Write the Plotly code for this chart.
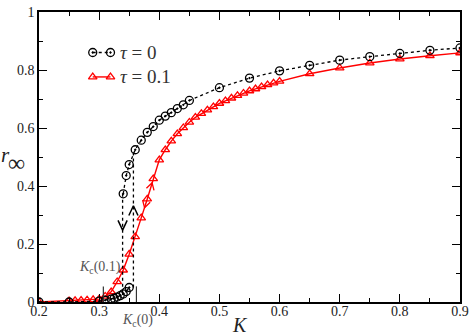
import numpy as np
import plotly.graph_objects as go

# ---- data: order parameter r_inf versus coupling K ----
# tau = 0, lower branch (increasing K)
K0_low = [0.20, 0.25, 0.30, 0.31, 0.32, 0.325, 0.33, 0.335, 0.34, 0.345, 0.35]
r0_low = [0.0, 0.0, 0.003, 0.006, 0.010, 0.013, 0.017, 0.022, 0.028, 0.036, 0.050]
# tau = 0, upper branch
K0_up = [0.34, 0.345, 0.35, 0.36, 0.37, 0.38, 0.39, 0.40, 0.41, 0.42, 0.43, 0.44, 0.45,
         0.50, 0.55, 0.60, 0.65, 0.70, 0.75, 0.80, 0.85, 0.90]
r0_up = [0.373, 0.436, 0.474, 0.525, 0.558, 0.585, 0.605, 0.627, 0.641, 0.653, 0.667, 0.680, 0.695,
         0.739, 0.772, 0.797, 0.816, 0.834, 0.846, 0.857, 0.868, 0.876]
# tau = 0, jumps between branches: (K, r_from, r_to)
jump_down = (0.339, 0.373, 0.028)
jump_up = (0.357, 0.050, 0.525)

# tau = 0.1
K1 = [0.20, 0.25, 0.26, 0.27, 0.28, 0.29, 0.30, 0.31, 0.32, 0.33, 0.34, 0.35, 0.36, 0.37, 0.38,
      0.39, 0.40, 0.41, 0.42, 0.43, 0.44, 0.45, 0.46, 0.47, 0.48, 0.49, 0.50, 0.51, 0.52, 0.53,
      0.54, 0.55, 0.56, 0.57, 0.58, 0.59, 0.60, 0.65, 0.70, 0.75, 0.80, 0.85, 0.90]
r1 = [0.0, 0.004, 0.005, 0.006, 0.007, 0.008, 0.010, 0.020, 0.035, 0.070, 0.110, 0.165, 0.225, 0.290, 0.355,
      0.425, 0.490, 0.525, 0.555, 0.580, 0.601, 0.620, 0.637, 0.650, 0.662, 0.673, 0.685, 0.694, 0.703, 0.712,
      0.720, 0.728, 0.735, 0.742, 0.749, 0.755, 0.761, 0.787, 0.807, 0.824, 0.838, 0.849, 0.859]

# critical couplings marked on the axis
Kc = {"0.1": 0.307, "0": 0.362}

# direction arrows: (K, r, direction) ; direction given as unit vector in screen space
black_arrows = [(0.339, 0.248, (0, 1)), (0.357, 0.332, (0, -1))]
red_arrows = [(0.388, 0.411, (0.27, -0.96)), (0.3755, 0.325, (-0.27, 0.96))]

x_ticks = [0.2, 0.3, 0.4, 0.5, 0.6, 0.7, 0.8, 0.9]
x_ticklabels = ["0.2", "0.3", "0.4", "0.5", "0.6", "0.7", "0.8", "0.9"]
y_ticks = [0, 0.2, 0.4, 0.6, 0.8, 1.0]
y_ticklabels = ["0", "0.2", "0.4", "0.6", "0.8", "1"]

# ---- geometry ----
W, H = 474, 336
ML, MR, MT, MB = 39, 8, 5, 34
XR = (0.2, 0.9)
YR = (0.0, 1.0)
PW, PH = W - ML - MR, H - MT - MB
sx = PW / (XR[1] - XR[0])
sy = PH / (YR[1] - YR[0])


def px_to_data(xp, yp):
    return XR[0] + (xp - ML) / sx, YR[0] + (MT + PH - yp) / sy


def px_to_paper(xp, yp):
    return (xp - ML) / PW, (MT + PH - yp) / PH


def chevron(k, r, d, arm=9, half_angle=28):
    """Polyline for an open arrow head with tip at (k, r), pointing along screen vector d."""
    dx, dy = d
    a = np.deg2rad(half_angle)
    pts = []
    for s in (1, -1):
        c, sn = np.cos(s * a), np.sin(s * a)
        bx = -(dx * c - dy * sn)
        by = -(dx * sn + dy * c)
        pts.append((k + bx * arm / sx, r - by * arm / sy))
    return [pts[0][0], k, pts[1][0]], [pts[0][1], r, pts[1][1]]


SERIF = "Liberation Serif, Times New Roman, serif"
BLACK_MARK = dict(symbol="circle-open-dot", size=8, color="black", line=dict(width=1.3, color="black"))
RED_MARK = dict(symbol="triangle-up-open", size=7.5, color="#ff0000", line=dict(width=1.3, color="#ff0000"))

fig = go.Figure()

# tau = 0.1 curve
fig.add_trace(go.Scatter(x=K1, y=r1, mode="lines+markers",
                         line=dict(color="#ff0000", width=1.4), marker=RED_MARK))

# tau = 0 branches
fig.add_trace(go.Scatter(x=K0_low, y=r0_low, mode="lines+markers",
                         line=dict(color="black", width=1.3, dash="dot"), marker=BLACK_MARK))
fig.add_trace(go.Scatter(x=K0_up, y=r0_up, mode="lines+markers",
                         line=dict(color="black", width=1.3, dash="dot"), marker=BLACK_MARK))
for kj, ra, rb in (jump_down, jump_up):
    fig.add_trace(go.Scatter(x=[kj, kj], y=[ra, rb], mode="lines",
                             line=dict(color="black", width=1.3, dash="dot")))

# arrow heads
for k, r, d in black_arrows:
    xs, ys = chevron(k, r, d, arm=11, half_angle=25)
    fig.add_trace(go.Scatter(x=xs, y=ys, mode="lines", line=dict(color="black", width=1.5)))
for k, r, d in red_arrows:
    xs, ys = chevron(k, r, d, arm=8, half_angle=30)
    fig.add_trace(go.Scatter(x=xs, y=ys, mode="lines", line=dict(color="#ff0000", width=1.3)))

# critical coupling markers on the K axis
for kc in Kc.values():
    fig.add_shape(type="line", x0=kc, x1=kc, y0=0, y1=16 / sy,
                  line=dict(color="#333333", width=1.2))

# legend samples
legend_rows = [(46.5, BLACK_MARK, dict(color="black", width=1.3, dash="dot"), "<i>τ</i> = 0"),
               (71.5, RED_MARK, dict(color="#ff0000", width=1.4), "<i>τ</i> = 0.1")]
for yp, mk, ln, label in legend_rows:
    xa, ya = px_to_data(93.5, yp)
    xb, _ = px_to_data(111.5, yp)
    fig.add_trace(go.Scatter(x=[xa, xb], y=[ya, ya], mode="lines+markers", line=ln, marker=mk))
    fig.add_annotation(x=px_to_data(119, 0)[0], y=ya, text=label, showarrow=False,
                       xanchor="left", yanchor="middle",
                       font=dict(family=SERIF, size=19, color="#333333"))


def paper_text(xp, yp, text, size, color):
    px, py = px_to_paper(xp, yp)
    fig.add_annotation(xref="paper", yref="paper", x=px, y=py, text=text, showarrow=False,
                       xanchor="center", yanchor="middle",
                       font=dict(family=SERIF, size=size, color=color))


# K_c labels
paper_text(101, 267, "<i>K</i><sub>c</sub>(0.1)", 14, "#555555")
paper_text(139, 321, "<i>K</i><sub>c</sub>(0)", 14, "#555555")

# axis titles
paper_text(243, 326, "<i>K</i>", 20, "#222222")
paper_text(5, 151, "<i>r</i>", 21, "#222222")
paper_text(16, 160, "∞", 24, "#222222")

axis_common = dict(showline=True, linecolor="black", linewidth=1.5, mirror="allticks",
                   ticks="inside", tickcolor="black", tickwidth=1.2, ticklen=8,
                   showgrid=False, zeroline=False, ticklabeloverflow="allow",
                   tickfont=dict(family=SERIF, size=14, color="#222222"))

fig.update_xaxes(range=list(XR), tickvals=x_ticks, ticktext=x_ticklabels, ticklabelstandoff=-5,
                 minor=dict(dtick=0.05, tick0=0.2, ticks="inside", ticklen=4, tickcolor="black",
                            tickwidth=1.2, showgrid=False),
                 **axis_common)
fig.update_yaxes(range=list(YR), tickvals=y_ticks, ticktext=y_ticklabels,
                 minor=dict(dtick=0.1, tick0=0, ticks="inside", ticklen=4, tickcolor="black",
                            tickwidth=1.2, showgrid=False),
                 **axis_common)

fig.update_layout(width=W, height=H, margin=dict(l=ML, r=MR, t=MT, b=MB),
                  plot_bgcolor="white", paper_bgcolor="white", showlegend=False)

fig.write_html("out.html")
